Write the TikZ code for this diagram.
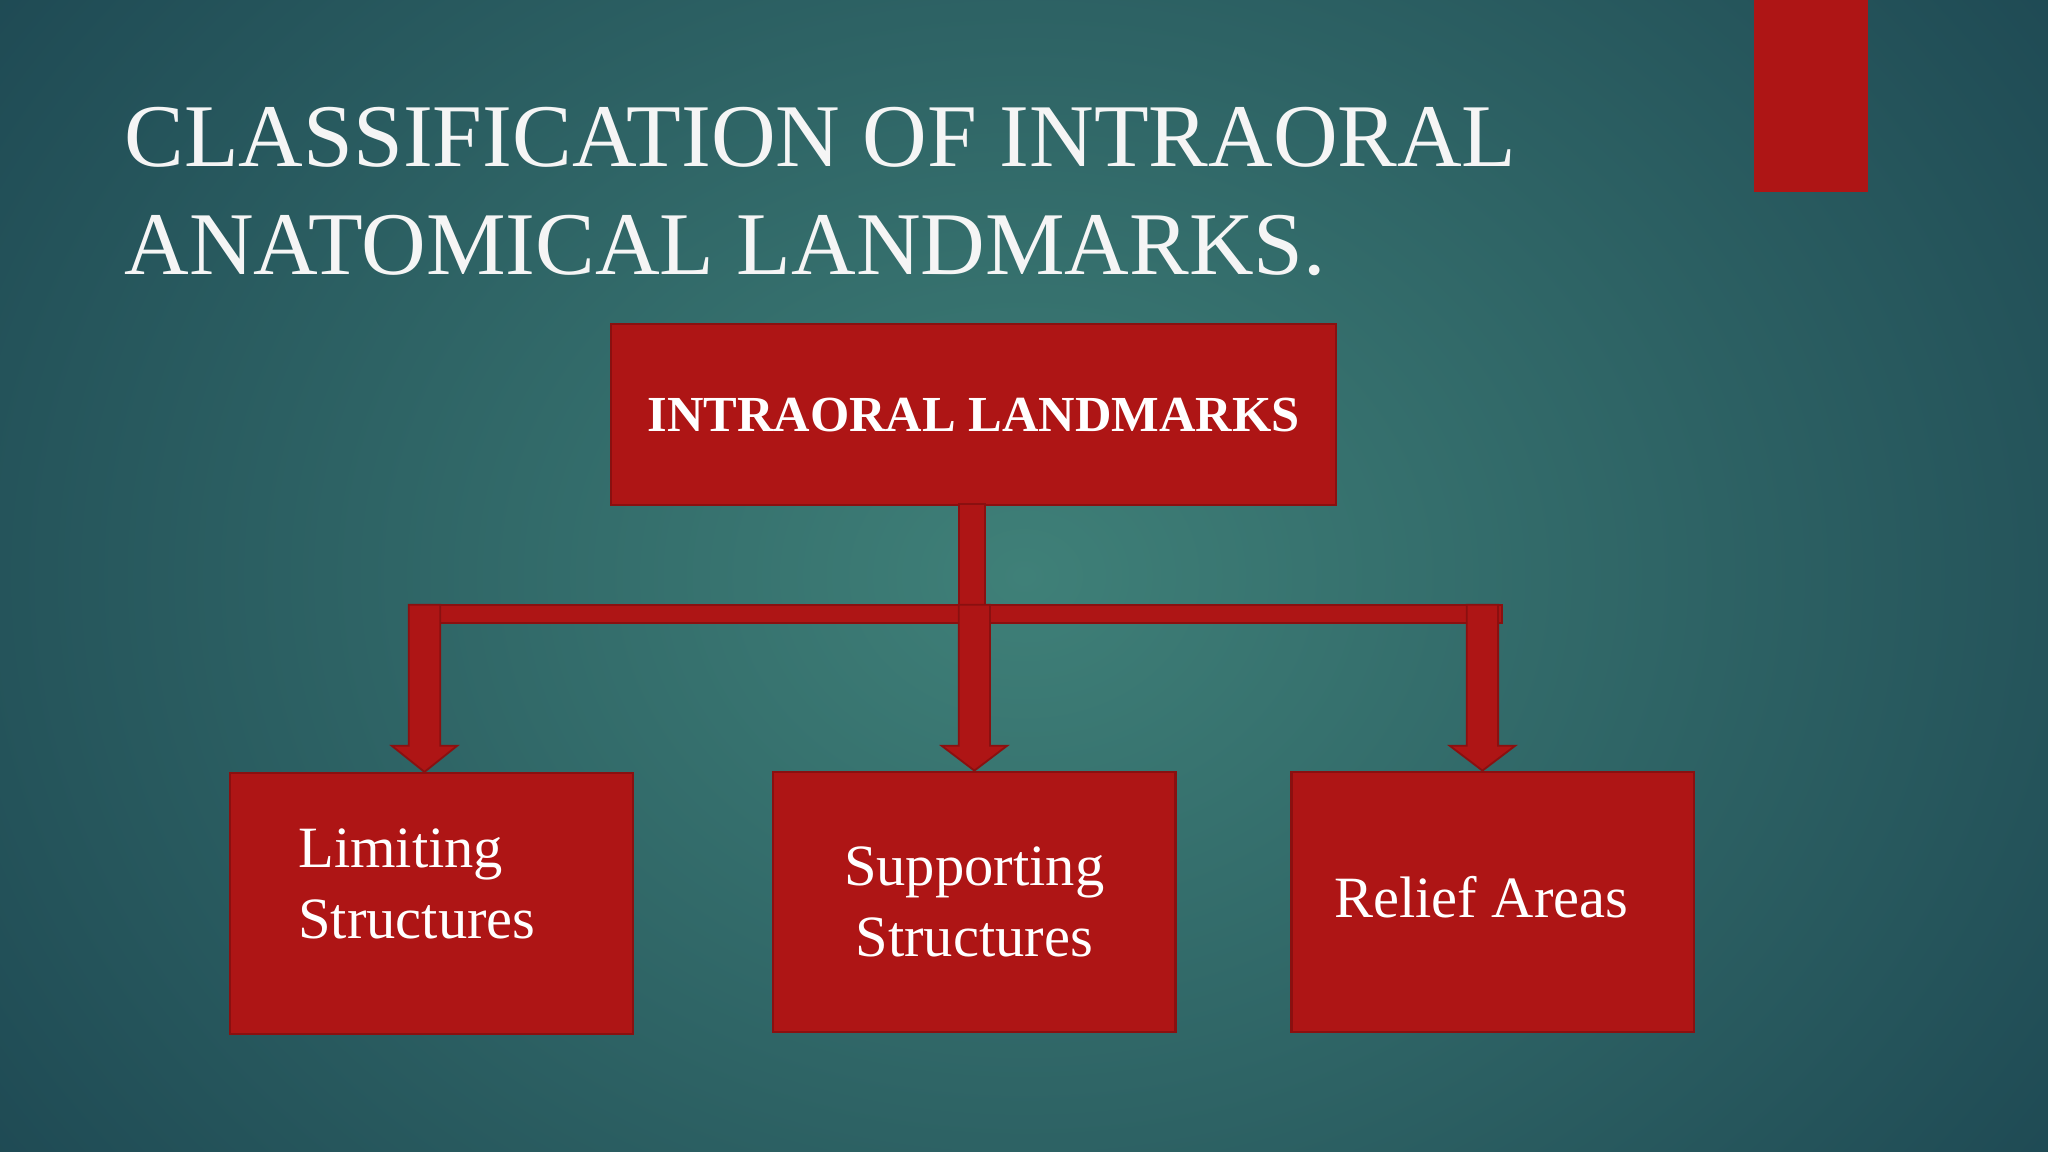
\documentclass[tikz,border=0pt]{standalone}
\usepackage{fontspec}
\setmainfont{Liberation Serif}
\definecolor{bgc}{HTML}{3F8078}
\definecolor{bge}{HTML}{143848}
\definecolor{rd}{HTML}{AE1515}
\definecolor{rdl}{HTML}{8A1010}
\begin{document}
\begin{tikzpicture}[x=0.02cm,y=-0.02cm,
  box/.style={draw=rdl,line width=1pt,fill=rd,text=white,anchor=north west,inner sep=0pt},
  bar/.style={draw=rdl,line width=0.8pt,fill=rd}]
\useasboundingbox (0,0) rectangle (1568,882);
\shade[inner color=bgc,outer color=bge] (-500,-600) rectangle (2068,1482);
\fill[rd] (1343,0) rectangle (1430,147);
\node[anchor=north west,text=white!92!gray,align=left,font=\fontsize{39}{47}\selectfont,inner sep=0pt] (title) at (95,82) {CLASSIFICATION OF INTRAORAL\\ANATOMICAL LANDMARKS.};
\node[box,minimum width=555*0.02cm,minimum height=139*0.02cm,font=\bfseries\fontsize{22}{24}\selectfont] (top) at (467,247) {INTRAORAL LANDMARKS};
\node[box,minimum width=309*0.02cm,minimum height=200*0.02cm] (b1) at (175,591) {};
\node[anchor=north west,text=white,align=left,font=\fontsize{25.5}{31}\selectfont,inner sep=0pt] (t1) at (228,634) {Limiting\\Structures};
\node[box,minimum width=308*0.02cm,minimum height=199*0.02cm,font=\fontsize{25.5}{31}\selectfont,align=center] (b2) at (591,590) {Supporting\\Structures};
\node[box,minimum width=308*0.02cm,minimum height=199*0.02cm,font=\fontsize{25.5}{31}\selectfont] (b3) at (988,590) {\raisebox{4pt}{Relief Areas}\hspace*{0.35cm}};
\draw[bar] (734,386) rectangle (754,464);
\draw[bar] (313,463) rectangle (1150,477);
\foreach \xx/\yy in {325/591,746/590,1135/590}{
  \draw[bar] (\xx-12,463) -- (\xx+12,463) -- (\xx+12,571) -- (\xx+25,571) -- (\xx,\yy) -- (\xx-25,571) -- (\xx-12,571) -- cycle;
}
\end{tikzpicture}
\end{document}
